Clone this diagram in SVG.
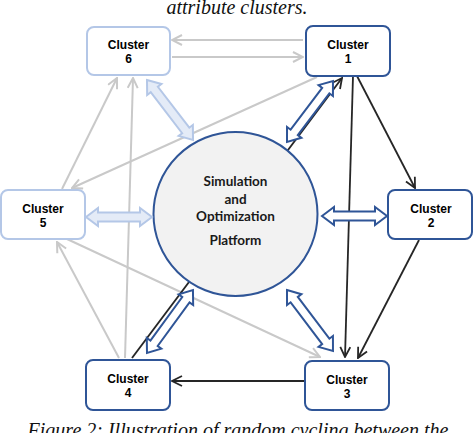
<svg xmlns="http://www.w3.org/2000/svg" width="474" height="433" viewBox="0 0 474 433">
<style>
.cap{font-family:"Liberation Serif","Times New Roman",serif;font-style:italic;font-size:20px;fill:#111;text-anchor:middle}
.lbl{font-family:"Liberation Sans",Arial,sans-serif;font-weight:bold;font-size:12px;fill:#000;text-anchor:middle}
.plat{font-family:Lato,"Liberation Sans",sans-serif;font-weight:bold;font-size:13.5px;fill:#1a1a1a;text-anchor:middle}
.boxd{fill:#fff;stroke:#2f5597;stroke-width:2}
.boxl{fill:#fff;stroke:#b4c7e7;stroke-width:2}
.g{stroke:#c9c9c9;stroke-width:2;fill:none;marker-end:url(#mg)}
.d{stroke:#262626;stroke-width:1.8;fill:none;marker-end:url(#md)}
.bad{fill:#fff;stroke:#2f5597;stroke-width:2;stroke-linejoin:miter}
.bal{fill:#e4ebf7;stroke:#b4c7e7;stroke-width:2;stroke-linejoin:miter}
</style>
<defs>
<marker id="mg" viewBox="0 0 12 12" refX="11" refY="6" markerWidth="12" markerHeight="12" markerUnits="userSpaceOnUse" orient="auto">
<path d="M1,1 L11,6 L1,11" fill="none" stroke="#c9c9c9" stroke-width="2"/>
</marker>
<marker id="md" viewBox="0 0 12 12" refX="11" refY="6" markerWidth="12" markerHeight="12" markerUnits="userSpaceOnUse" orient="auto">
<path d="M1,1 L11,6 L1,11" fill="none" stroke="#262626" stroke-width="1.8"/>
</marker>
</defs>
<rect width="474" height="433" fill="#fff"/>
<text class="cap" x="237" y="14">attribute clusters.</text>
<text class="cap" x="238" y="437">Figure 2: Illustration of random cycling between the</text>

<g id="connectors">
<line class="g" x1="303" y1="40" x2="172" y2="40"/>
<line class="g" x1="172" y1="57" x2="303" y2="57"/>
<line class="g" x1="62" y1="189" x2="117" y2="78"/>
<line class="g" x1="125" y1="358" x2="133" y2="78"/>
<line class="g" x1="317" y1="77" x2="72" y2="188"/>
<line class="g" x1="119" y1="358" x2="57" y2="242"/>
<line class="g" x1="67" y1="239" x2="320" y2="357"/>
<line class="d" x1="357" y1="76" x2="415" y2="188"/>
<line class="d" x1="353" y1="76" x2="345" y2="357"/>
<line class="d" x1="419" y1="240" x2="358" y2="358"/>
<line class="d" x1="305" y1="381" x2="172" y2="381"/>
<line class="d" x1="132" y1="358" x2="342" y2="78"/>
</g>

<g id="platform">
<circle cx="235.5" cy="214" r="82" fill="#f2f2f2" stroke="#2f5597" stroke-width="2"/>
<text class="plat" x="235.5" y="186">Simulation</text>
<text class="plat" x="235.5" y="204">and</text>
<text class="plat" x="235.5" y="221">Optimization</text>
<text class="plat" x="235.5" y="245">Platform</text>
</g>

<g id="block-arrows">
<polygon class="bal" transform="translate(147,80) rotate(52.5)" points="0,0 12,-9 12,-4.5 63.6,-4.5 63.6,-9 75.6,0 63.6,9 63.6,4.5 12,4.5 12,9"/>
<polygon class="bad" transform="translate(287,142) rotate(-53)" points="0,0 12,-9 12,-4.5 64.4,-4.5 64.4,-9 76.4,0 64.4,9 64.4,4.5 12,4.5 12,9"/>
<polygon class="bal" transform="translate(86,217)" points="0,0 12,-9 12,-4.5 54,-4.5 54,-9 66,0 54,9 54,4.5 12,4.5 12,9"/>
<polygon class="bad" transform="translate(322,216)" points="0,0 12,-9 12,-4.5 53,-4.5 53,-9 65,0 53,9 53,4.5 12,4.5 12,9"/>
<polygon class="bad" transform="translate(147,353) rotate(-53.9)" points="0,0 12,-9 12,-4.5 66,-4.5 66,-9 78,0 66,9 66,4.5 12,4.5 12,9"/>
<polygon class="bad" transform="translate(287,290) rotate(53)" points="0,0 12,-9 12,-4.5 64.4,-4.5 64.4,-9 76.4,0 64.4,9 64.4,4.5 12,4.5 12,9"/>
</g>

<g id="cluster6">
<rect class="boxl" x="87" y="27" width="83" height="48" rx="7"/>
<text class="lbl" x="128.5" y="49">Cluster</text>
<text class="lbl" x="128.5" y="63">6</text>
</g>
<g id="cluster1">
<rect class="boxd" x="306" y="26" width="84" height="50" rx="7"/>
<text class="lbl" x="348" y="49">Cluster</text>
<text class="lbl" x="348" y="63">1</text>
</g>
<g id="cluster5">
<rect class="boxl" x="1" y="190" width="84" height="49" rx="7"/>
<text class="lbl" x="43" y="213">Cluster</text>
<text class="lbl" x="43" y="227">5</text>
</g>
<g id="cluster2">
<rect class="boxd" x="388" y="190" width="84" height="49" rx="7"/>
<text class="lbl" x="431" y="213">Cluster</text>
<text class="lbl" x="431" y="227">2</text>
</g>
<g id="cluster4">
<rect class="boxd" x="86" y="360" width="84" height="50" rx="7"/>
<text class="lbl" x="128" y="383">Cluster</text>
<text class="lbl" x="128" y="397">4</text>
</g>
<g id="cluster3">
<rect class="boxd" x="305" y="361" width="84" height="49" rx="7"/>
<text class="lbl" x="347" y="384">Cluster</text>
<text class="lbl" x="347" y="398">3</text>
</g>
</svg>
